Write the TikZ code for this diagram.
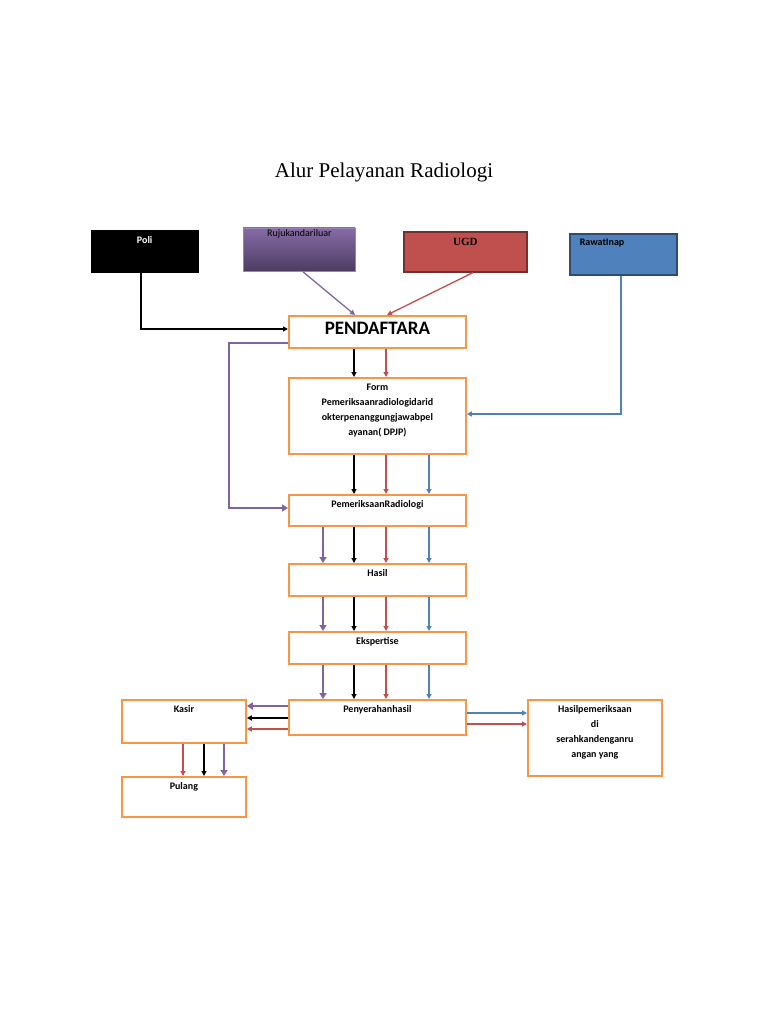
\documentclass[tikz,border=0pt]{standalone}
\usepackage{fontspec}
\setmainfont{Carlito}
\newfontfamily\serifx{Liberation Serif}
\usetikzlibrary{arrows.meta}
\definecolor{org}{HTML}{F79646}
\definecolor{pur}{HTML}{8064A2}
\definecolor{redc}{HTML}{C0504D}
\definecolor{bluc}{HTML}{4F81BD}
\begin{document}
\begin{tikzpicture}[x=1pt,y=-1pt,
 box/.style={draw=org,line width=1.8pt,fill=white,inner sep=0pt,anchor=north west},
 lbl/.style={font=\fontsize{10}{15}\selectfont\bfseries},
 ar/.style={-{Triangle[length=5pt,width=5pt]},line width=1.5pt},
 arth/.style={-{Triangle[length=6pt,width=7pt]},line width=2.6pt,draw=pur},
 arr/.style={-{Triangle[length=5pt,width=5pt]},line width=1.3pt}]
\useasboundingbox (0,0) rectangle (768,1024);
\newcommand{\bx}[3]{\parbox[t][#2pt][t]{#1pt}{\centering\vspace{6pt}#3}}
\node[font=\serifx\fontsize{21}{24}\selectfont] (title) at (384,172) {Alur Pelayanan Radiologi};
% top boxes
\node[fill=black,draw=black,inner sep=0pt,anchor=north west,text=white,lbl] (poli) at (91,230) {\bx{107}{42}{Poli}};
\shade[top color=pur!95!white,bottom color=pur!60!black] (243,228) rectangle (355,271);
\node[draw=pur!80,line width=0.8pt,inner sep=0pt,anchor=north west,font=\fontsize{10}{12}\selectfont] (ruj) at (243,228) {\parbox[t][43pt][t]{112pt}{\centering\vspace{1pt}Rujukandariluar}};
\node[fill=redc,draw=redc!60!black,line width=1.6pt,inner sep=0pt,anchor=north west,font=\serifx\fontsize{11}{13}\selectfont\bfseries] (ugd) at (403,231) {\bx{123}{40}{UGD}};
\node[fill=bluc,draw=bluc!60!black,line width=1.6pt,inner sep=0pt,anchor=north west,lbl] (rawat) at (569,233) {\parbox[t][41pt][t]{107pt}{\vspace{5pt}\hspace{10pt}RawatInap}};
% main column
\node[box] (pend) at (288,315) {\parbox[t][32pt][t]{177pt}{\centering\vspace{6pt}{\fontsize{19}{20}\selectfont\bfseries PENDAFTARA}}};
\node[box,lbl] (form) at (288,377) {\bx{177}{76}{Form\\Pemeriksaanradiologidarid\\okterpenanggungjawabpel\\ayanan( DPJP)}};
\node[box,lbl] (pem) at (288,494) {\bx{177}{31}{PemeriksaanRadiologi}};
\node[box,lbl] (hasil) at (288,563) {\bx{177}{32}{Hasil}};
\node[box,lbl] (eks) at (288,631) {\bx{177}{32}{Ekspertise}};
\node[box,lbl] (peny) at (288,699) {\bx{177}{35}{Penyerahanhasil}};
\node[box,lbl] (kasir) at (121,699) {\bx{124}{43}{Kasir}};
\node[box,lbl] (pulang) at (121,776) {\bx{124}{40}{Pulang}};
\node[box,lbl] (hp) at (527,699) {\bx{134}{76}{Hasilpemeriksaan\\di\\serahkandenganru\\angan yang}};
% top arrows
\draw[ar] (poli.south -| 141,0) |- (pend.west |- 0,329);
\draw[arr,draw=pur] (ruj.south -| 303,0) -- (pend.north -| 355,0);
\draw[arr,draw=redc] (ugd.south -| 473,0) -- (pend.north -| 387,0);
\draw[arr,draw=bluc] (rawat.south -| 621,0) |- (form.east |- 0,414);
\draw[arth] (pend.west |- 0,343) -| (229,420) |- (pem.west |- 0,508);
% column arrows
\draw[ar] (pend.south -| 354,0) -- (form.north -| 354,0);
\draw[arr,draw=redc] (pend.south -| 386,0) -- (form.north -| 386,0);
\draw[ar] (form.south -| 354,0) -- (pem.north -| 354,0);
\draw[arr,draw=redc] (form.south -| 386,0) -- (pem.north -| 386,0);
\draw[arr,draw=bluc] (form.south -| 429,0) -- (pem.north -| 429,0);
\foreach \a/\b in {pem/hasil,hasil/eks,eks/peny}{
 \draw[arth] (\a.south -| 323,0) -- (\b.north -| 323,0);
 \draw[ar] (\a.south -| 354,0) -- (\b.north -| 354,0);
 \draw[arr,draw=redc] (\a.south -| 386,0) -- (\b.north -| 386,0);
 \draw[arr,draw=bluc] (\a.south -| 429,0) -- (\b.north -| 429,0);
}
% to kasir
\draw[arth] (peny.west |- 0,706) -- (kasir.east |- 0,706);
\draw[ar] (peny.west |- 0,718) -- (kasir.east |- 0,718);
\draw[arr,draw=redc] (peny.west |- 0,729) -- (kasir.east |- 0,729);
% kasir to pulang
\draw[arr,draw=redc] (kasir.south -| 183,0) -- (pulang.north -| 183,0);
\draw[ar] (kasir.south -| 204,0) -- (pulang.north -| 204,0);
\draw[arth] (kasir.south -| 224,0) -- (pulang.north -| 224,0);
% to hasil pemeriksaan
\draw[arr,draw=bluc] (peny.east |- 0,713) -- (hp.west |- 0,713);
\draw[arr,draw=redc] (peny.east |- 0,724) -- (hp.west |- 0,724);
\end{tikzpicture}
\end{document}
